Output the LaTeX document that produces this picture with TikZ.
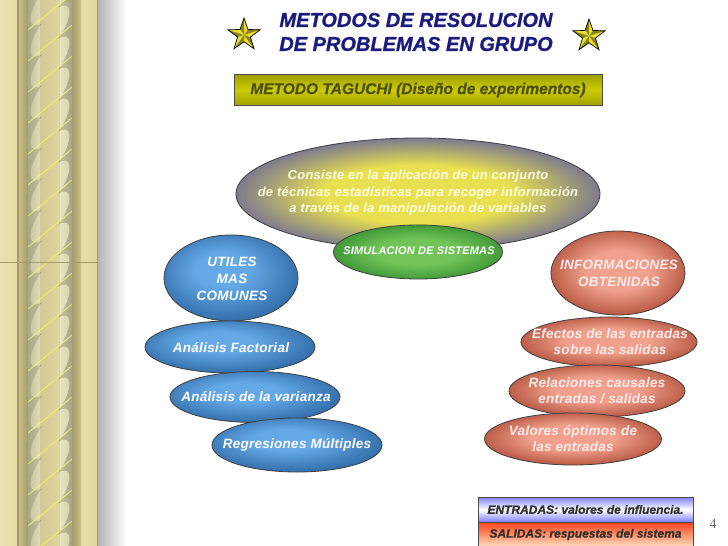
\documentclass[tikz,border=0pt]{standalone}
\usepackage{fontspec}
\setmainfont{Liberation Sans}
\newfontfamily\numfont{Liberation Serif}
\usetikzlibrary{shapes.geometric,shadings}
\definecolor{navy}{HTML}{1C1C7E}
\definecolor{oliveT}{HTML}{4E4E1A}
\definecolor{yelc}{HTML}{E8E050}
\definecolor{bluc}{HTML}{4848AC}
\definecolor{grnIn}{HTML}{72C458}
\definecolor{grnOut}{HTML}{2F8A2C}
\definecolor{bluIn}{HTML}{64A8E6}
\definecolor{bluOut}{HTML}{2C67A2}
\definecolor{redIn}{HTML}{F0A08C}
\definecolor{redOut}{HTML}{A8452F}
\definecolor{beigeL}{HTML}{E6DCA4}
\definecolor{beigeM}{HTML}{C9C08A}
\definecolor{beigeD}{HTML}{A39B6A}
\pgfdeclareradialshading{bigsh}{\pgfpoint{0bp}{0bp}}{color(0bp)=(yelc); color(13bp)=(yelc); color(31bp)=(bluc); color(50bp)=(bluc)}
\pgfdeclareradialshading{grnsh}{\pgfpoint{0bp}{0bp}}{color(0bp)=(grnIn); color(12bp)=(grnIn); color(30bp)=(grnOut); color(50bp)=(grnOut)}
\pgfdeclareradialshading{blush}{\pgfpoint{-4bp}{6bp}}{color(0bp)=(bluIn); color(10bp)=(bluIn); color(30bp)=(bluOut); color(50bp)=(bluOut)}
\pgfdeclareradialshading{redsh}{\pgfpoint{0bp}{2bp}}{color(0bp)=(redIn); color(12bp)=(redIn); color(30bp)=(redOut); color(50bp)=(redOut)}
\newcommand{\elfont}[2]{\fontsize{#1}{#2}\selectfont\bfseries\itshape\addfontfeatures{LetterSpace=2}}
\tikzset{
  ell/.style={ellipse, inner sep=0pt, draw=black!75, line width=0.8pt},
  bigell/.style={ell, shading=bigsh},
  grnell/.style={ell, shading=grnsh},
  bluell/.style={ell, shading=blush},
  redell/.style={ell, shading=redsh},
  txt/.style={inner sep=0pt, align=center, font=\elfont{13.5}{16}},
  bigtxt/.style={txt, text=yellow!12, font=\elfont{13}{16.5}},
  grntxt/.style={txt, text=white, font=\elfont{11}{13}},
  blutxt/.style={txt, text=white},
  redtxt/.style={txt, text=red!8},
  keybox/.style={draw=black!70, line width=0.6pt, minimum width=215pt, minimum height=25pt, inner sep=0pt,
    font=\fontsize{12}{14}\selectfont\bfseries\itshape\addfontfeatures{FakeBold=0.8}, text=black!85!olive},
}
\begin{document}
\begin{tikzpicture}[x=1pt,y=-1pt]
\useasboundingbox (0,0) rectangle (728,546);
\fill[white] (0,0) rectangle (728,546);
% ---- decorative border ----
\shade[left color=black!30, right color=white] (97,0) rectangle (127,546);
\shade[left color=beigeL!85!white, right color=beigeL] (0,0) rectangle (17,546);
\fill[beigeD] (17,0) rectangle (19,546);
\shade[left color=beigeM, right color=beigeD] (19,0) rectangle (28,546);
\shade[left color=beigeD, right color=beigeM] (72,0) rectangle (81,546);
\shade[left color=beigeL, right color=beigeL!80!beigeM] (81,0) rectangle (97,546);
\fill[beigeD] (96.5,0) rectangle (97.5,546);
\begin{scope}
  \clip (28,0) rectangle (72,546);
  \fill[beigeD] (28,0) rectangle (72,546);
  \foreach \yy in {-31,0,...,580}{
    \shade[left color=beigeM, right color=beigeL!95!white, rotate around={55:(50,\yy)}]
      (50,\yy) ellipse [x radius=30, y radius=11];
    \draw[beigeL!60!yellow, line width=1pt] (28,\yy+30) -- (72,\yy-6);
  }
  \shade[left color=black!25, right color=black!0, opacity=0.35] (28,0) rectangle (40,546);
  \shade[left color=black!0, right color=black!30, opacity=0.35] (60,0) rectangle (72,546);
\end{scope}
\draw[beigeD, line width=0.6pt] (0,262) -- (97,262);
% ---- stars ----
\foreach \cx/\cy in {244/35, 589/36}{
  \begin{scope}[shift={(\cx,\cy)}]
    \foreach \k in {0,...,4}{
      \fill[yellow!80!olive!85!white] (0,0) -- (-90+72*\k:17) -- (-90+36+72*\k:6.8) -- cycle;
      \fill[olive!80!yellow!80!black] (0,0) -- (-90+72*\k:17) -- (-90-36+72*\k:6.8) -- cycle;
    }
    \draw[black, line width=0.7pt] (-90:17) -- (-54:6.8) -- (-18:17) -- (18:6.8) -- (54:17) -- (90:6.8)
      -- (126:17) -- (162:6.8) -- (198:17) -- (234:6.8) -- cycle;
  \end{scope}
}
% ---- title ----
\node[font=\fontsize{20}{24}\selectfont\bfseries\itshape\addfontfeatures{FakeBold=1.2}, text=navy, align=center] (title) at (416,32)
  {METODOS DE RESOLUCION\\DE PROBLEMAS EN GRUPO};
\node[draw=black!70, line width=0.8pt, top color=olive!75!yellow, bottom color=olive!75!yellow,
  middle color=yellow!60!olive, minimum width=368pt, minimum height=31pt, inner sep=0pt,
  font=\fontsize{15.5}{18}\selectfont\bfseries\itshape\addfontfeatures{FakeBold=0.8}, text=oliveT] (taguchi) at (418,90)
  {METODO TAGUCHI (Diseño de experimentos)};
% ---- central ellipses ----
\node[bigell, minimum width=364pt, minimum height=112pt] (def) at (418,194) {};
\node[bigtxt] (deft) at (418,193)
  {Consiste en la aplicación de un conjunto\\de técnicas estadísticas para recoger información\\a través de la manipulación de variables};
\node[grnell, minimum width=169pt, minimum height=54pt] (sim) at (418,252) {};
\node[grntxt] (simt) at (419,251) {SIMULACION DE SISTEMAS};
% ---- left ellipses ----
\node[bluell, minimum width=134pt, minimum height=86pt] (utiles) at (231,278) {};
\node[blutxt, font=\elfont{13.5}{17}] (utilest) at (232,279) {UTILES\\MAS\\COMUNES};
\node[bluell, minimum width=170pt, minimum height=52pt] (fact) at (230,347) {};
\node[blutxt] (factt) at (231,348) {Análisis Factorial};
\node[bluell, minimum width=170pt, minimum height=51pt] (var) at (255,397) {};
\node[blutxt] (vart) at (256,397) {Análisis de la varianza};
\node[bluell, minimum width=170pt, minimum height=54pt] (reg) at (297,445) {};
\node[blutxt] (regt) at (297,445) {Regresiones Múltiples};
% ---- right ellipses ----
\node[redell, minimum width=134pt, minimum height=84pt] (info) at (618,273) {};
\node[redtxt, font=\elfont{13.5}{17}] (infot) at (619,273) {INFORMACIONES\\OBTENIDAS};
\node[redell, minimum width=176pt, minimum height=50pt] (efe) at (609,342) {};
\node[redtxt] (efet) at (610,342) {Efectos de las entradas\\sobre las salidas};
\node[redell, minimum width=176pt, minimum height=52pt] (rel) at (597,391) {};
\node[redtxt] (relt) at (597,391) {Relaciones causales\\entradas / salidas};
\node[redell, minimum width=177pt, minimum height=52pt] (val) at (573,439) {};
\node[redtxt] (valt) at (573,439) {Valores óptimos de\\las entradas};
% ---- legend ----
\node[keybox, top color=blue!50!white, bottom color=blue!50!white, middle color=white] (ent) at (585.5,509.5)
  {ENTRADAS: valores de influencia.};
\node[keybox, top color=red!65!orange!90!white, bottom color=orange!25!white] (sal) at (585.5,534.5)
  {SALIDAS: respuestas del sistema};
\node[font=\numfont\fontsize{14}{16}\selectfont, text=black!60] (pg) at (713,524) {4};
\end{tikzpicture}
\end{document}
